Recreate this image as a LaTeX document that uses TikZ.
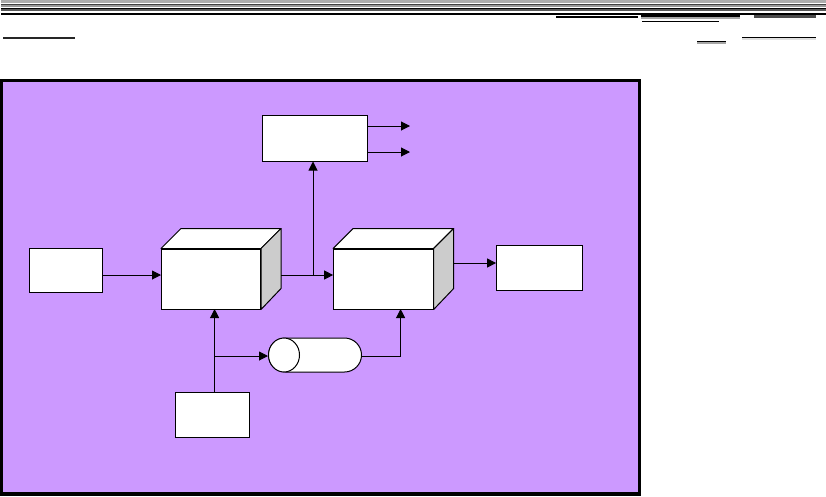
\documentclass[tikz,border=0pt]{standalone}
\usetikzlibrary{arrows.meta,shapes.geometric,shapes.misc}
\definecolor{framefill}{HTML}{CC99FF}
\definecolor{sidefill}{HTML}{CCCCCC}
\tikzset{
  plainbox/.style={rectangle, draw, fill=white, line width=1pt, inner sep=0pt},
  drum/.style={rounded rectangle, draw, fill=white, line width=1pt, inner sep=0pt,
    minimum width=93pt, minimum height=34pt},
  drumend/.style={ellipse, draw, fill=white, line width=1pt, inner sep=0pt,
    minimum width=31pt, minimum height=34pt},
  rulebar/.style={fill=#1, draw=none}
}
% top and side faces of a box, 20 units deep
\newcommand{\cubefaces}[1]{
  \draw[fill=white, line width=1pt, line join=round] (#1.north west) -- ++(20,-20) -- ([shift={(20,-20)}]#1.north east) -- (#1.north east) -- cycle;
  \draw[fill=sidefill, line width=1pt, line join=round] (#1.north east) -- ++(20,-20) -- ++(0,60) -- (#1.south east) -- cycle;
}
\begin{document}
\begin{tikzpicture}[x=1pt, y=-1pt, ->, >={Triangle[length=9pt,width=9pt]}, line width=1pt]

      \useasboundingbox (0,0) rectangle (826,496);

      % Define header rules
      \foreach \ya/\yb/\shade in {0/2.7/black!32, 3.7/4.6/black!75, 4.6/6.5/black!40, 7.5/8.5/black, 8.5/11/black!65, 12.5/15/black}
        \fill[rulebar=\shade] (1,\ya) rectangle (826,\yb);
      \foreach \xa/\xb/\ya/\yb/\shade in {556/638/16/17.8/black, 641/740/15/17/black, 641/740/17/19/black!35, 642/719/21/22/black,
          754/816/15/17.7/black!70, 3/75/37/39/black!85, 697/726/41/42.3/black, 697/726/42.3/44/black!35, 742/816/36.5/37.5/black, 742/816/37.5/40/black!12}
        \fill[rulebar=\shade] (\xa,\ya) rectangle (\xb,\yb);

      % Define frame
      \draw[fill=framefill, line width=3.2pt] (1.6,80.6) rectangle (639.4,493.9);

      % Define boxes
      \node[plainbox, minimum width=73pt, minimum height=44pt] (input) at (66,270) {};
      \node[plainbox, minimum width=105pt, minimum height=46pt] (report) at (315,138) {};
      \node[plainbox, minimum width=86pt, minimum height=45pt] (result) at (539.6,267.5) {};
      \node[plainbox, minimum width=74pt, minimum height=45pt] (source) at (212.6,414.5) {};
      \node[plainbox, minimum width=99pt, minimum height=60pt] (cubeA) at (211,279) {};
      \node[plainbox, minimum width=99.5pt, minimum height=60pt] (cubeB) at (383.4,279) {};
      \cubefaces{cubeA}
      \cubefaces{cubeB}
      \node[drum] (store) at (315,355) {};
      \node[drumend] (storeEnd) at (284,355) {};

      % Define free ends and branch points
      \coordinate (cubeAout) at (281,275);
      \coordinate (cubeAin) at (214.6,309);
      \coordinate (cubeBout) at (453,263);
      \coordinate (cubeBin) at (400.6,309);
      \coordinate (tapReport) at (313,275);
      \coordinate (tapStore) at (214.6,356);
      \coordinate (reportA) at (368,126);
      \coordinate (reportB) at (368,152);
      \coordinate (outA) at (410,126);
      \coordinate (outB) at (410,152);

      % Define transitions
      \path (input.east |- cubeAout) edge (cubeA.west |- cubeAout)
            (cubeAout) edge (cubeB.west |- cubeAout)
            (tapReport) edge (tapReport |- report.south)
            (reportA) edge (outA)
            (reportB) edge (outB)
            (cubeBout) edge (result.west |- cubeBout)
            (tapStore |- source.north) edge (cubeAin)
            (tapStore) edge (storeEnd.west |- tapStore);
      \draw (store.east |- tapStore) -| (cubeBin);

    \end{tikzpicture}
\end{document}
